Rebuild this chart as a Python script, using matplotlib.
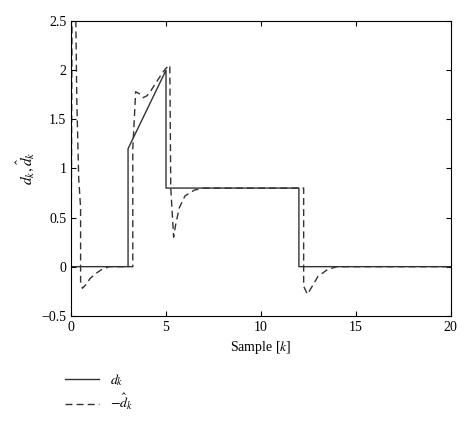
import matplotlib
matplotlib.use("Agg")
import matplotlib.pyplot as plt
from matplotlib.lines import Line2D

plt.rcParams['font.family'] = ['Liberation Serif', 'DejaVu Serif']
plt.rcParams['mathtext.fontset'] = 'stix'

d_x = [0, 3, 3, 3.2, 3.4, 3.6, 3.8, 4.0, 4.2, 4.4, 4.6, 4.8, 5.0, 5.0, 12, 12, 20]
d_y = [0, 0, 1.2, 1.28, 1.36, 1.44, 1.52, 1.6, 1.68, 1.76, 1.84, 1.92, 2.0, 0.8, 0.8, 0, 0]

h_x = [0, 0.05, 0.15, 0.25, 0.3, 0.4, 0.5, 0.5, 0.6, 0.8, 1.0, 1.3, 1.6, 2.0, 3.25, 3.25, 3.4, 3.6, 3.8, 4.0, 4.2, 4.4, 4.6, 4.8, 5.0, 5.2, 5.25, 5.4, 5.5, 5.7, 6.0, 6.5, 7.0, 12.25, 12.25, 12.45, 12.7, 13.0, 13.5, 14.0, 20]
h_y = [0, 2.6, 2.6, 2.5, 1.7, 0.9, 0.6, -0.15, -0.22, -0.18, -0.12, -0.07, -0.03, 0, 0, 1.2, 1.78, 1.76, 1.72, 1.74, 1.79, 1.85, 1.91, 1.97, 2.02, 2.05, 0.8, 0.3, 0.42, 0.6, 0.72, 0.78, 0.8, 0.8, -0.2, -0.28, -0.2, -0.1, -0.03, 0, 0]

fig = plt.figure(figsize=(4.74, 4.38), dpi=100)
ax = fig.add_axes([0.15, 0.279, 0.801, 0.673])
ax.plot(d_x, d_y, color='#333333', lw=1.0)
ax.plot(h_x, h_y, color='#333333', lw=1.0, ls=(0, (5, 3)))
ax.set_xlim(0, 20)
ax.set_ylim(-0.5, 2.5)
ax.set_xticks([0, 5, 10, 15, 20])
ax.set_yticks([-0.5, 0, 0.5, 1, 1.5, 2, 2.5])
ax.set_yticklabels(['−0.5', '0', '0.5', '1', '1.5', '2', '2.5'])
ax.tick_params(direction='in', labelsize=10, top=True, right=True)
ax.set_xlabel('Sample [$k$]', fontsize=10)
ax.set_ylabel(r'$d_k, \hat{d}_k$', fontsize=11)

handles = [Line2D([], [], color='#333333', lw=1.0),
           Line2D([], [], color='#333333', lw=1.0, ls=(0, (5, 3)))]
fig.legend(handles, ['$d_k$', r'$-\hat{d}_k$'], loc='lower left',
           bbox_to_anchor=(0.11, 0.03), frameon=False, fontsize=10,
           handlelength=2.5, labelspacing=0.3)
fig.savefig('out.png', dpi=100)
